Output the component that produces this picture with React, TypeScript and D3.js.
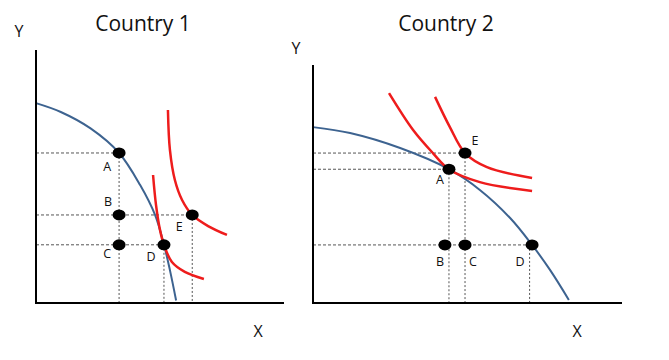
import React from "react";
import * as d3 from "d3";

type P = [number, number];

// ---- Country 1 data (units 0..10) ----
const ppf1: P[] = [[0, 7.9], [1, 7.55], [2.2, 6.9], [3.35, 5.93], [4.2, 4.66], [4.8, 3.48], [5.16, 2.3], [5.4, 1.3], [5.65, 0.1]];
const ic1a: P[] = [[4.72, 5.06], [4.84, 3.87], [5.0, 2.89], [5.16, 2.3], [5.48, 1.62], [6.0, 1.23], [6.77, 0.95]];
const ic1b: P[] = [[5.32, 7.63], [5.4, 6.05], [5.6, 4.86], [5.89, 4.07], [6.3, 3.48], [6.94, 3.04], [7.7, 2.69]];
const labels1 = ["A", "B", "C", "D", "E"];
const dots1: P[] = [[3.35, 5.93], [3.35, 3.48], [3.35, 2.3], [5.16, 2.3], [6.3, 3.48]];

// ---- Country 2 data ----
const ppf2: P[] = [[0, 7.39], [1.2, 7.14], [2.82, 6.51], [4.4, 5.62], [5.4, 4.75], [6.38, 3.57], [7.09, 2.44], [7.67, 1.39], [8.28, 0.13]];
const ic2a: P[] = [[2.46, 8.82], [3.24, 7.27], [3.88, 6.3], [4.4, 5.62], [5.4, 5.08], [7.09, 4.71]];
const ic2b: P[] = [[3.95, 8.66], [4.43, 7.39], [4.92, 6.3], [5.63, 5.71], [7.09, 5.25]];
const labels2 = ["A", "B", "C", "D", "E"];
const dots2: P[] = [[4.4, 5.62], [4.27, 2.44], [4.92, 2.44], [7.09, 2.44], [4.92, 6.3]];

const BLUE = "#3d6390";
const RED = "#ee1c1c";
const DASH = "#555";
const FONT = "'Open Sans', 'Noto Sans', sans-serif";

type PanelProps = {
  title: string;
  xr: [number, number];
  yr: [number, number];
  titleX: number;
  yLabel: P;
  xLabel: P;
  ppf: P[];
  ics: P[][];
  dots: P[];
  labels: string[];
  labelOff: P[];
  hLines: { y: number; x2: number }[];
  vLines: { x: number; y1: number }[];
};

function Panel(p: PanelProps) {
  const x = d3.scaleLinear().domain([0, 10]).range(p.xr);
  const y = d3.scaleLinear().domain([0, 10]).range(p.yr);
  const line = d3
    .line<P>()
    .x((d) => x(d[0]))
    .y((d) => y(d[1]))
    .curve(d3.curveCatmullRom.alpha(0.5));
  return (
    <g>
      <text x={p.titleX} y={31} textAnchor="middle" fontSize={21} fontFamily={FONT} fill="#111">
        {p.title}
      </text>
      <text x={p.yLabel[0]} y={p.yLabel[1]} textAnchor="middle" fontSize={16} fontFamily={FONT} fill="#111">
        Y
      </text>
      <text x={p.xLabel[0]} y={p.xLabel[1]} textAnchor="middle" fontSize={16} fontFamily={FONT} fill="#111">
        X
      </text>
      {p.hLines.map((h, i) => (
        <line key={"h" + i} x1={x(0)} x2={x(h.x2)} y1={y(h.y)} y2={y(h.y)} stroke={DASH} strokeWidth={1} strokeDasharray="3,2" />
      ))}
      {p.vLines.map((v, i) => (
        <line key={"v" + i} x1={x(v.x)} x2={x(v.x)} y1={y(v.y1)} y2={y(0)} stroke={DASH} strokeWidth={1} strokeDasharray="2,2" />
      ))}
      <path d={line(p.ppf) || ""} fill="none" stroke={BLUE} strokeWidth={2} />
      {p.ics.map((ic, i) => (
        <path key={"ic" + i} d={line(ic) || ""} fill="none" stroke={RED} strokeWidth={2.5} />
      ))}
      <line x1={x(0)} x2={x(0)} y1={y(10)} y2={y(0) + 1} stroke="#000" strokeWidth={2} />
      <line x1={x(0) - 1} x2={x(10)} y1={y(0)} y2={y(0)} stroke="#000" strokeWidth={2} />
      {p.dots.map((d, i) => (
        <ellipse key={"d" + i} cx={x(d[0])} cy={y(d[1])} rx={6.5} ry={5.5} fill="#000" />
      ))}
      {p.dots.map((d, i) => (
        <text
          key={"l" + i}
          x={x(d[0]) + p.labelOff[i][0]}
          y={y(d[1]) + p.labelOff[i][1]}
          textAnchor="middle"
          dominantBaseline="central"
          fontSize={12.5}
          fontFamily={FONT}
          fill="#111"
        >
          {p.labels[i]}
        </text>
      ))}
    </g>
  );
}

export default function App() {
  return (
    <svg width={669} height={360} style={{ position: "absolute", left: 0, top: 0, background: "#fff" }}>
      <Panel
        title="Country 1"
        xr={[36, 284]}
        yr={[303, 50]}
        titleX={143}
        yLabel={[19, 37]}
        xLabel={[258, 337]}
        ppf={ppf1}
        ics={[ic1a, ic1b]}
        dots={dots1}
        labels={labels1}
        labelOff={[[-12, 14], [-11, -13], [-12, 9], [-13, 12], [-13, 12]]}
        hLines={[
          { y: dots1[0][1], x2: dots1[0][0] },
          { y: dots1[1][1], x2: dots1[4][0] },
          { y: dots1[2][1], x2: dots1[3][0] },
        ]}
        vLines={[
          { x: dots1[0][0], y1: dots1[0][1] },
          { x: dots1[3][0], y1: dots1[3][1] },
          { x: dots1[4][0], y1: dots1[4][1] },
        ]}
      />
      <Panel
        title="Country 2"
        xr={[313, 622]}
        yr={[303, 65]}
        titleX={446}
        yLabel={[296, 54]}
        xLabel={[577, 337]}
        ppf={ppf2}
        ics={[ic2a, ic2b]}
        dots={dots2}
        labels={labels2}
        labelOff={[[-9, 10], [-5, 17], [8, 17], [-12, 17], [10, -13]]}
        hLines={[
          { y: dots2[4][1], x2: dots2[4][0] },
          { y: dots2[0][1], x2: dots2[0][0] },
          { y: dots2[3][1], x2: dots2[3][0] },
        ]}
        vLines={[
          { x: dots2[0][0], y1: dots2[0][1] },
          { x: dots2[4][0], y1: dots2[4][1] },
          { x: dots2[3][0] - 0.08, y1: dots2[3][1] },
        ]}
      />
    </svg>
  );
}
